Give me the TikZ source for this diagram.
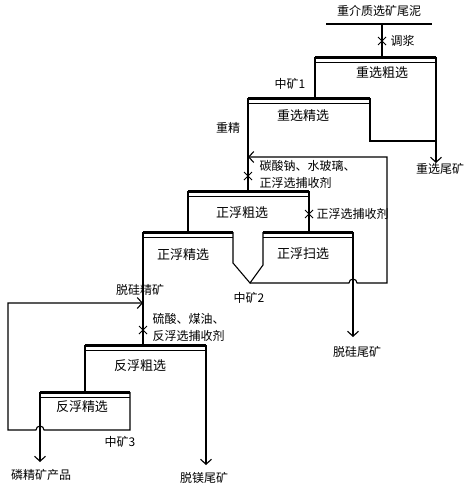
\documentclass[tikz,border=0pt]{standalone}
\usepackage{fontspec}
\newfontfamily\cjk{Noto Sans CJK SC}
\usetikzlibrary{arrows.meta,shapes.misc}

\begin{document}
\begin{tikzpicture}[
% Change style
	x=1pt, y=-1pt,
	line width=1.1pt,
	bar/.style={line width=3pt},
	rim/.style={line width=0.7pt},
	flow/.style={-{Straight Barb[length=5pt,width=11pt]}},
	cross/.style={cross out, draw, line width=1pt, minimum size=7pt, inner sep=0pt},
	lbl/.style={font=\cjk\fontsize{12}{14}\selectfont, inner sep=0pt},
	cell/.style={font=\cjk\fontsize{13}{15}\selectfont, inner sep=0pt}]

\useasboundingbox (0,0) rectangle (474,490);

% Feed
\node[lbl] (feed) at (379,11) {重介质选矿尾泥};
\coordinate (feedL) at (326,24);
\coordinate (feedR) at (432,24);
\coordinate (feedC) at (382,24);

% Cell tops
\coordinate (rough1L) at (315,57);  \coordinate (rough1R) at (436,57);
\coordinate (clean1L) at (248,98);  \coordinate (clean1R) at (370,98);
\coordinate (rough2L) at (188,191); \coordinate (rough2R) at (309,191);
\coordinate (clean2L) at (143,232); \coordinate (clean2R) at (233,232);
\coordinate (scav2L) at (263,232);  \coordinate (scav2R) at (353,232);
\coordinate (rough3L) at (85,345);  \coordinate (rough3R) at (206,345);
\coordinate (clean3L) at (40,392);  \coordinate (clean3R) at (130,392);

\foreach \a/\b in {rough1L/rough1R, clean1L/clean1R, rough2L/rough2R,
	clean2L/clean2R, scav2L/scav2R, rough3L/rough3R, clean3L/clean3R}{
	\draw[bar] (\a) -- (\b);
	\draw[rim] ([yshift=-5pt]\a) -- ([yshift=-5pt]\b);
}

% Cell names
\node[cell] (rough1) at (382,73) {重选粗选};
\node[cell] (clean1) at (303,116) {重选精选};
\node[cell] (rough2) at (242,213) {正浮粗选};
\node[cell] (clean2) at (183,255) {正浮精选};
\node[cell] (scav2) at (303,254) {正浮扫选};
\node[cell] (rough3) at (140,366) {反浮粗选};
\node[cell] (clean3) at (82,407) {反浮精选};

% Turning points
\coordinate (tail1) at (436,163);
\coordinate (bend1a) at (370,141);
\coordinate (bend1b) at (436,141);
\coordinate (vee) at (250,283);
\coordinate (veeL) at (233,263);
\coordinate (veeR) at (263,265);
\coordinate (tail2) at (353,337);
\coordinate (mid2a) at (387,283);
\coordinate (mid2b) at (387,157);
\coordinate (mid3a) at (130,430);
\coordinate (mid3b) at (8,430);
\coordinate (mid3c) at (8,303);
\coordinate (tail3) at (206,465);
\coordinate (prod) at (40,462);

% Gravity circuit
\draw (feedL) -- (feedR);
\draw (feedC) -- (rough1L -| feedC);
\node[cross] (x1) at (382,41) {};
\node[lbl, anchor=west] (pulp) at (390,41) {调浆};
\draw (rough1L) -- (clean1L -| rough1L);
\node[lbl] (mid1) at (290,84) {中矿1};
\draw[flow] (rough1R) -- (tail1);
\draw (clean1R) -- (bend1a) -- (bend1b);
\node[lbl] (tailgrav) at (440,169) {重选尾矿};

% Direct flotation
\draw (clean1L) -- (rough2L -| clean1L);
\node[lbl] (conc1) at (228,128) {重精};
\node[cross] (x2) at (248,176) {};
\node[lbl, anchor=west] (reag1) at (259,166) {碳酸钠、水玻璃、};
\node[lbl, anchor=west] (reag1b) at (259,183) {正浮选捕收剂};
\draw (rough2L) -- (clean2L -| rough2L);
\draw (rough2R) -- (scav2L -| rough2R);
\node[cross] (x3) at (309,214) {};
\node[lbl, anchor=west] (reag2) at (316,214) {正浮选捕收剂};
\draw (clean2R) -- (veeL) -- (vee) -- (veeR) -- (scav2L);
\draw[flow] (scav2R) -- (tail2);
\node[lbl] (tailsi) at (357,352) {脱硅尾矿};
\draw[flow] (vee) -- (349,283) arc (180:360:4) -- (mid2a) -- (mid2b) -- (clean1L |- mid2b);
\node[lbl] (mid2) at (249,298) {中矿2};

% Reverse flotation
\draw (clean2L) -- (rough3L -| clean2L);
\node[lbl] (conc2) at (140,290) {脱硅精矿};
\node[cross] (x4) at (143,330) {};
\node[lbl, anchor=west] (reag3) at (152,319) {硫酸、煤油、};
\node[lbl, anchor=west] (reag3b) at (152,336) {反浮选捕收剂};
\draw (rough3L) -- (clean3L -| rough3L);
\draw[flow] (rough3R) -- (tail3);
\node[lbl] (tailmg) at (204,478) {脱镁尾矿};
\draw[flow] (clean3L) -- (prod);
\node[lbl] (product) at (41,475) {磷精矿产品};
\draw[flow] (clean3R) -- (mid3a) -- (44,430) arc (0:-180:4) -- (mid3b) -- (mid3c) -- (clean2L |- mid3c);
\node[lbl] (mid3) at (120,442) {中矿3};

\end{tikzpicture}
\end{document}
